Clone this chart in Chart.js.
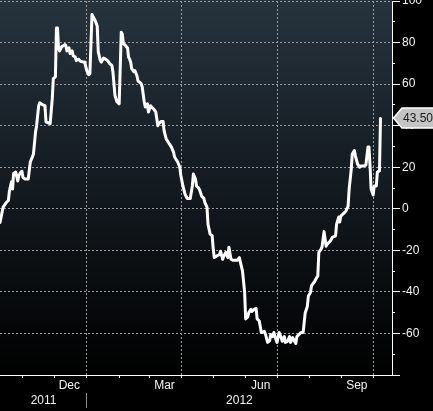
<!DOCTYPE html>
<html><head><meta charset="utf-8">
<script src="https://cdn.jsdelivr.net/npm/chart.js@4"></script>
<style>html,body{margin:0;padding:0;background:#000;overflow:hidden}canvas{display:block}</style>
</head><body>
<canvas id="c" width="433" height="411"></canvas>
<script>
// x positions: days since 2012-01-01
const days = [-83,-81,-80,-77,-75,-74,-72,-71,-70,-68,-66,-65,-63,-62,-61,-59,-56,-54,-52,-51,-49,-48,-46,-45,-42,-40,-39,-37,-35,-33,-32,-30,-29,-28,-27,-26,-24,-21,-20,-19,-17,-16,-14,-13,-11,-10,-8,-6,-3,-2,0,2,3,5,6,8,10,11,13,14,16,18,20,22,24,25,27,29,31,33,34,35,37,39,40,41,42,43,45,46,48,49,52,53,55,56,58,59,61,62,64,66,68,69,71,73,74,76,78,81,83,84,87,89,90,92,94,96,99,101,102,104,105,107,108,110,112,113,115,116,118,120,121,122,124,127,128,130,131,133,135,136,138,140,142,144,146,147,149,151,152,154,155,157,158,160,162,163,165,167,168,170,171,173,175,176,178,179,181,182,184,186,187,189,190,192,194,195,197,198,200,201,203,205,207,208,209,211,212,214,215,218,220,221,222,224,225,227,229,230,233,235,238,239,241,242,243,245,247,248,250,251,253,254,256,257,259,261,262,265,267,269,270,271,272,274,275,277,278,280,281];
const values = [-6.6,-1.6,0.8,3,4,8.5,13,9.5,17,17.7,13.4,16,17.7,18,15,14.3,14.3,22.5,25,26.4,37,40,49.6,51,50,49.6,41.8,41.4,41,53,62.6,63.5,87,87,77,76,78,79,78.5,76,77.5,74.7,76,73.7,73,71.3,72,71,70.6,70.6,66.5,64.5,65,93.5,92.5,90.6,88,75.5,71.3,70.6,72.5,72,71.3,69.8,69,66,54.5,51.4,50.5,85,84,79.5,78.6,77.4,73,72,70.6,67.4,66,66.5,64,61.6,60.2,58.7,51.4,49,50.5,46.6,49.6,49,48,46.6,40,41,42,42,37.5,33.6,32,29.7,27.3,24.9,22.5,20,16,11,7,5,5,11,16.7,14.3,11,10,9,6,5,3,0.8,-7.5,-12.2,-13,-19.5,-23.5,-22.8,-22,-20.4,-24.3,-22.8,-21,-23.5,-18.5,-24.3,-24.8,-24.8,-24.8,-23.5,-25.8,-30,-40,-53,-52,-50,-48.4,-49.4,-48.4,-48,-53,-54,-59.5,-59.5,-59,-60.5,-64.3,-63.4,-60.5,-61.5,-59.5,-63,-64.3,-59.5,-62,-63.8,-61.5,-64.3,-63.8,-61.5,-64.3,-62,-63,-64.8,-61.5,-60.5,-59.5,-59.5,-54.7,-50,-47,-42,-40.3,-37,-35,-33,-32.5,-21,-19.5,-18.5,-11,-18,-17,-15.5,-13.7,-13,-7.4,-4,-6.4,-3.5,-2.6,-1.6,-1,1.3,9.5,19,26.4,28,25.5,21.6,20,20.6,20.6,21,29.7,29.7,20.6,9.5,6.6,11,11,17.7,18.2,43.5];

const monthTicks = [-61,-31,0,31,60,91,121,152,182,213,244,274];
const monthLabels = {'-31':'Dec','60':'Mar','152':'Jun','244':'Sep'};
const quarterLines = [0,91,182,274];
const yearTicks = [-41.3,0,146];
const yearLabels = ['2011','','2012'];
const yMajorTicks = [-80,-60,-40,-20,0,20,40,60,80,100];
const yMinorTicks = [-80,-70,-60,-50,-40,-30,-20,-10,0,10,20,30,40,50,60,70,80,90,100];
const xMin = -83, xMax = 292;

Chart.defaults.font.family = "'Liberation Sans', Arial, sans-serif";
Chart.defaults.font.size = 12;

const GRID = '#9c9c9c';
const TXT = '#f4f4f4';

const bgPlugin = {
  id: 'bg',
  beforeDraw(chart) {
    const {ctx, chartArea: a} = chart;
    ctx.save();
    ctx.fillStyle = '#000';
    ctx.fillRect(0, 0, chart.width, chart.height);
    const g = ctx.createLinearGradient(0, 0, 0, a.bottom);
    g.addColorStop(0, '#26333d');
    g.addColorStop(0.5, '#131a20');
    g.addColorStop(1, '#000000');
    ctx.fillStyle = g;
    ctx.fillRect(0, 0, a.right, a.bottom);
    ctx.restore();
  }
};

const lastLabel = {
  id: 'lastLabel',
  afterDraw(chart) {
    const {ctx, chartArea: a} = chart;
    const v = values[values.length - 1];
    const py = chart.scales.y.getPixelForValue(v) - 0.5;
    const x0 = a.right + 1.5;
    ctx.save();
    ctx.beginPath();
    ctx.moveTo(x0, py);
    ctx.lineTo(x0 + 8.5, py - 10);
    ctx.lineTo(chart.width + 5, py - 10);
    ctx.lineTo(chart.width + 5, py + 10);
    ctx.lineTo(x0 + 8.5, py + 10);
    ctx.closePath();
    ctx.fillStyle = '#c4c4c4';
    ctx.fill();
    ctx.lineWidth = 1.5;
    ctx.strokeStyle = '#ffffff';
    ctx.stroke();
    ctx.fillStyle = '#1a1a1a';
    ctx.font = "12px 'Liberation Sans', Arial, sans-serif";
    ctx.textBaseline = 'middle';
    ctx.textAlign = 'left';
    ctx.fillText(v.toFixed(2), x0 + 9.5, py + 0.5);
    ctx.restore();
  }
};

new Chart(document.getElementById('c'), {
  type: 'line',
  data: {
    datasets: [{
      data: days.map((d, i) => ({x: d, y: values[i]})),
      borderColor: '#ffffff',
      borderWidth: 3,
      pointRadius: 0,
      tension: 0,
      borderJoinStyle: 'round',
      borderCapStyle: 'round',
      xAxisID: 'x',
      yAxisID: 'y'
    }]
  },
  options: {
    responsive: false,
    animation: false,
    events: [],
    layout: {padding: {top: 1, left: 0, right: 0, bottom: 0}},
    plugins: {legend: {display: false}, tooltip: {enabled: false}},
    scales: {
      x: {
        type: 'linear', position: 'bottom', min: xMin, max: xMax, weight: 0,
        afterBuildTicks: s => { s.ticks = monthTicks.map(v => ({value: v})); },
        afterFit: s => { s.height = 17.5; s.paddingLeft = 0; s.paddingRight = 0; },
        ticks: {autoSkip: false, maxRotation: 0, minRotation: 0, padding: 0, labelOffset: 15,
          color: TXT, callback: v => monthLabels[v] || ''},
        grid: {color: c => (c.tick && quarterLines.includes(c.tick.value)) ? GRID : 'transparent',
          tickColor: '#ffffff', tickLength: 3, lineWidth: 1, drawOnChartArea: true},
        border: {display: true, color: '#ffffff', width: 1, dash: [2, 2]}
      },
      xYear: {
        type: 'linear', position: 'bottom', min: xMin, max: xMax, weight: 1,
        afterBuildTicks: s => { s.ticks = yearTicks.map(v => ({value: v})); },
        afterFit: s => { s.height = 18.5; s.paddingLeft = 0; s.paddingRight = 0; },
        ticks: {autoSkip: false, maxRotation: 0, minRotation: 0, padding: -14.2,
          color: TXT, callback: (v, i) => yearLabels[i]},
        grid: {drawOnChartArea: false, tickLength: 15.5, color: 'transparent',
          tickColor: c => (c.tick && c.tick.value === 0) ? '#8a8a8a' : 'transparent'},
        border: {display: false}
      },
      y: {
        type: 'linear', position: 'right', min: -80, max: 100, weight: 1,
        afterBuildTicks: s => { s.ticks = yMajorTicks.map(v => ({value: v})); },
        afterFit: s => { s.width = 41; s.paddingTop = 0; s.paddingBottom = 0; },
        ticks: {autoSkip: false, padding: 2, color: TXT, callback: v => v === -80 ? '' : String(v)},
        grid: {color: c => (c.tick && c.tick.value > -80) ? GRID : 'transparent',
          tickColor: '#ffffff', tickLength: 8, drawOnChartArea: true},
        border: {display: true, color: '#ffffff', width: 1, dash: [2, 2]}
      },
      y2: {
        type: 'linear', position: 'right', min: -80, max: 100, weight: 0,
        afterBuildTicks: s => { s.ticks = yMinorTicks.map(v => ({value: v})); },
        afterFit: s => { s.width = 0; s.paddingTop = 0; s.paddingBottom = 0; },
        ticks: {display: false},
        grid: {drawOnChartArea: false, tickLength: 3, tickColor: '#ffffff', color: 'transparent'},
        border: {display: false}
      }
    }
  },
  plugins: [bgPlugin, lastLabel]
});
</script>
</body></html>
